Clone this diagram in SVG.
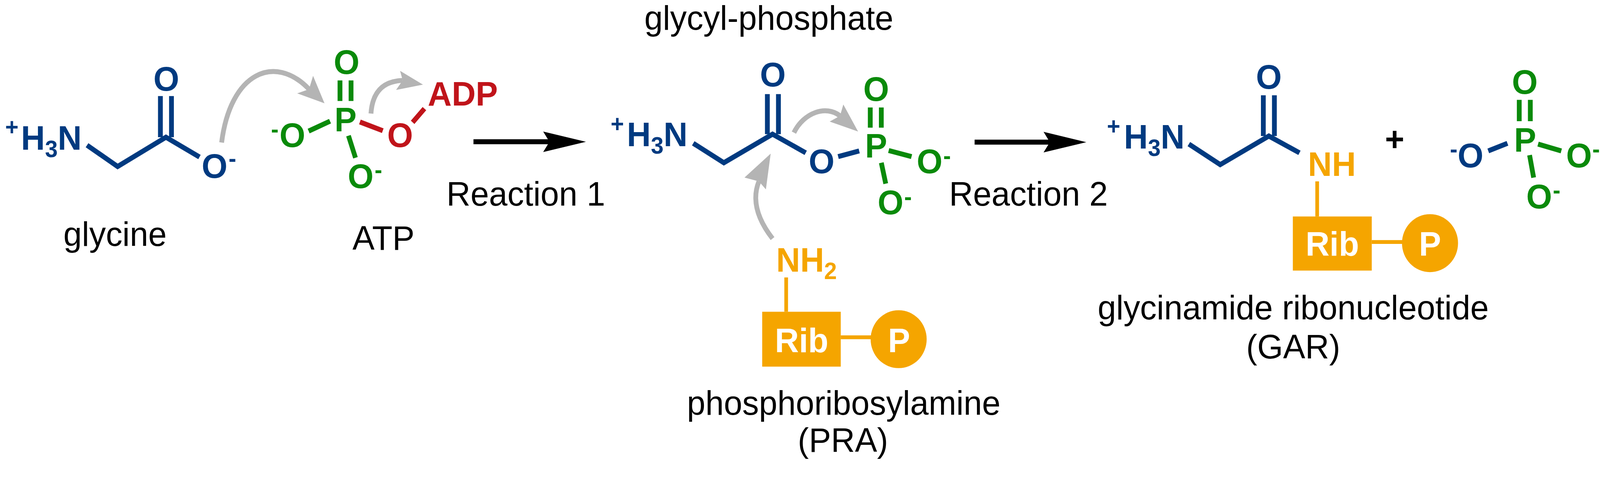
<svg xmlns="http://www.w3.org/2000/svg" width="4350" height="1228" viewBox="0 0 4350 1228">
<style>
text{font-family:"Liberation Sans",Arial,sans-serif}
.lbl{font-size:90px;fill:#000}
.at{font-size:90px;font-weight:bold}
.sm{font-size:62px;font-weight:bold}
.b{fill:#003a80}.g{fill:#0a8a0a}.r{fill:#c0141a}.o{fill:#f5a500}.w{fill:#fff}
.sb{stroke:#003a80;stroke-width:13;fill:none}
.sg{stroke:#0a8a0a;stroke-width:13;fill:none}
.sr{stroke:#c0141a;stroke-width:13;fill:none}
.so{stroke:#f5a500;stroke-width:10;fill:none}
.gy{stroke:#b4b4b4;stroke-width:13;fill:none}
.gh{fill:#b4b4b4}
.bk{stroke:#000;stroke-width:13}
</style>
<rect width="4350" height="1228" fill="#fff"/>
<g transform="scale(0.944,0.975)">
<g id="glycine">
<text x="14" y="355" class="sm b">+</text>
<text x="57" y="393" class="at b">H<tspan class="sm" dy="19">3</tspan><tspan dy="-19">N</tspan></text>
<polyline class="sb" points="236,381 319,437 450,360 541,412"/>
<line class="sb" x1="435" y1="252" x2="435" y2="360"/><line class="sb" x1="465" y1="252" x2="465" y2="360"/>
<text x="451" y="238" class="at b" text-anchor="middle">O</text>
<text x="582" y="467" class="at b" text-anchor="middle">O</text>
<text x="620" y="437" class="sm b">-</text>
<text x="312" y="645" class="lbl" text-anchor="middle">glycine</text>
</g>
<g id="atp">
<text x="937" y="345" class="at g" text-anchor="middle">P</text>
<text x="940" y="194" class="at g" text-anchor="middle">O</text>
<line class="sg" x1="922" y1="211" x2="922" y2="265"/><line class="sg" x1="952" y1="211" x2="952" y2="265"/>
<text x="793" y="386" class="at g" text-anchor="middle">O</text>
<text x="735" y="360" class="sm g">-</text>
<line class="sg" x1="837" y1="344" x2="895" y2="318"/>
<line class="sg" x1="945" y1="356" x2="964" y2="414"/>
<text x="978" y="493" class="at g" text-anchor="middle">O</text>
<text x="1016" y="467" class="sm g">-</text>
<line class="sr" x1="976" y1="320" x2="1038" y2="343"/>
<text x="1085" y="386" class="at r" text-anchor="middle">O</text>
<line class="sr" x1="1119" y1="321" x2="1151" y2="285"/>
<text x="1160" y="277" class="at r">ADP</text>
<text x="1040" y="655" class="lbl" text-anchor="middle">ATP</text>
</g>
<g id="glycyl-phosphate">
<text x="2085" y="78" class="lbl" text-anchor="middle">glycyl-phosphate</text>
<text x="1656" y="347" class="sm b">+</text>
<text x="1700" y="384" class="at b">H<tspan class="sm" dy="19">3</tspan><tspan dy="-19">N</tspan></text>
<polyline class="sb" points="1880,376 1963,427 2095,352 2185,401"/>
<line class="sb" x1="2081" y1="247" x2="2081" y2="352"/><line class="sb" x1="2111" y1="247" x2="2111" y2="352"/>
<text x="2096" y="227" class="at b" text-anchor="middle">O</text>
<text x="2228" y="454" class="at b" text-anchor="middle">O</text>
<line class="sb" x1="2273" y1="411" x2="2330" y2="396"/>
<text x="2376" y="413" class="at g" text-anchor="middle">P</text>
<line class="sg" x1="2360" y1="282" x2="2360" y2="335"/><line class="sg" x1="2390" y1="282" x2="2390" y2="335"/>
<text x="2376" y="265" class="at g" text-anchor="middle">O</text>
<line class="sg" x1="2410" y1="395" x2="2472" y2="411"/>
<text x="2521" y="454" class="at g" text-anchor="middle">O</text>
<text x="2558" y="430" class="sm g">-</text>
<line class="sg" x1="2390" y1="427" x2="2402" y2="482"/>
<text x="2415" y="562" class="at g" text-anchor="middle">O</text>
<text x="2452" y="537" class="sm g">-</text>
</g>
<g id="pra">
<text x="2105" y="713" class="at o">NH<tspan class="sm" dy="19">2</tspan></text>
<line class="so" x1="2132" y1="728" x2="2132" y2="818"/>
<rect x="2067" y="818" width="213" height="144" fill="#f5a500"/>
<text x="2174" y="924" class="at w" text-anchor="middle">Rib</text>
<line class="so" x1="2280" y1="885" x2="2365" y2="885"/>
<circle cx="2437" cy="890" r="76" fill="#f5a500"/>
<text x="2438" y="924" class="at w" text-anchor="middle">P</text>
<text x="2288" y="1088" class="lbl" text-anchor="middle">phosphoribosylamine</text>
<text x="2286" y="1186" class="lbl" text-anchor="middle">(PRA)</text>
</g>
<g id="gar">
<text x="3002" y="353" class="sm b">+</text>
<text x="3048" y="390" class="at b">H<tspan class="sm" dy="19">3</tspan><tspan dy="-19">N</tspan></text>
<polyline class="sb" points="3224,378 3309,432 3441,357 3524,401"/>
<line class="sb" x1="3426" y1="250" x2="3426" y2="357"/><line class="sb" x1="3456" y1="250" x2="3456" y2="357"/>
<text x="3441" y="233" class="at b" text-anchor="middle">O</text>
<text x="3547" y="462" class="at o">NH</text>
<line class="so" x1="3572" y1="476" x2="3572" y2="568"/>
<rect x="3506" y="568" width="214" height="142" fill="#f5a500"/>
<text x="3613" y="671" class="at w" text-anchor="middle">Rib</text>
<line class="so" x1="3720" y1="635" x2="3805" y2="635"/>
<circle cx="3878" cy="638" r="76" fill="#f5a500"/>
<text x="3878" y="671" class="at w" text-anchor="middle">P</text>
<text x="3507" y="838" class="lbl" text-anchor="middle">glycinamide ribonucleotide</text>
<text x="3507" y="941" class="lbl" text-anchor="middle">(GAR)</text>
</g>
<g id="plus"><text x="3782" y="396" class="at" text-anchor="middle" font-size="80">+</text></g>
<g id="phosphate">
<text x="4136" y="398" class="at g" text-anchor="middle">P</text>
<text x="4135" y="246" class="at g" text-anchor="middle">O</text>
<line class="sg" x1="4120" y1="262" x2="4120" y2="318"/><line class="sg" x1="4150" y1="262" x2="4150" y2="318"/>
<text x="3988" y="439" class="at b" text-anchor="middle">O</text>
<text x="3932" y="412" class="sm b">-</text>
<line class="sb" x1="4036" y1="396" x2="4088" y2="376"/>
<line class="sg" x1="4171" y1="378" x2="4234" y2="396"/>
<text x="4282" y="439" class="at g" text-anchor="middle">O</text>
<text x="4318" y="412" class="sm g">-</text>
<line class="sg" x1="4148" y1="407" x2="4159" y2="466"/>
<text x="4174" y="547" class="at g" text-anchor="middle">O</text>
<text x="4211" y="520" class="sm g">-</text>
</g>
<g id="connectors">
<path class="gy" d="M601,374 C625,190 745,140 838,234"/>
<polygon class="gh" points="880,271 849,199 838,234 806,245"/>
<path class="gy" d="M1006,298 C1010,240 1040,213 1092,211"/>
<polygon class="gh" points="1147,222 1085,186 1092,211 1074,236"/>
<path class="gy" d="M2153,348 C2180,295 2240,275 2278,304"/>
<polygon class="gh" points="2327,345 2287,274 2278,304 2250,319"/>
<path class="gy" d="M2095,626 C2050,570 2040,520 2058,476"/>
<polygon class="gh" points="2090,403 2019,466 2058,476 2077,497"/>
<line class="bk" x1="1284" y1="372" x2="1495" y2="372"/>
<polygon points="1589,372 1473,345 1490,372 1473,399"/>
<line class="bk" x1="2643" y1="373" x2="2852" y2="373"/>
<polygon points="2946,373 2830,346 2847,373 2830,400"/>
<text x="1426" y="539" class="lbl" text-anchor="middle">Reaction 1</text>
<text x="2789" y="539" class="lbl" text-anchor="middle">Reaction 2</text>
</g>
</g>
</svg>
